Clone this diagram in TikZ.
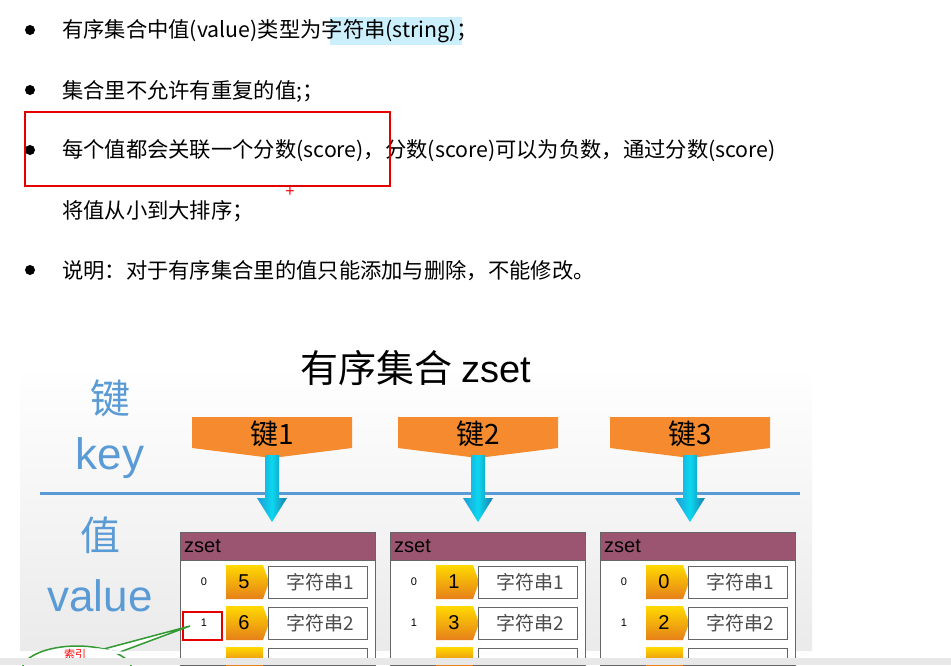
\documentclass[tikz,border=0pt]{standalone}
\usepackage{fontspec}
\newfontfamily\cjk{Noto Sans CJK SC}
\newfontfamily\ls{Liberation Sans}
\begin{document}
\begin{tikzpicture}[x=1pt,y=-1pt,
  bul/.style={circle,fill=black,inner sep=0pt,minimum size=10pt},
  txt/.style={anchor=west,font=\cjk\fontsize{21.3}{24}\selectfont,inner sep=0pt},
  side/.style={font=\cjk\fontsize{40}{44}\selectfont,inner sep=0pt},
  keylbl/.style={font=\cjk\fontsize{28}{30}\selectfont,inner sep=0pt},
  idx/.style={font=\ls\fontsize{11}{12}\selectfont,inner sep=0pt},
  num/.style={font=\ls\fontsize{20}{22}\selectfont,inner sep=0pt},
  str/.style={font=\cjk\fontsize{19}{21}\selectfont,text=black!70,inner sep=0pt},
  hdr/.style={font=\ls\fontsize{20}{22}\selectfont,anchor=west,inner sep=0pt}]
\definecolor{sideblue}{HTML}{5B9BD5}
\definecolor{orng}{HTML}{F58B2E}
\definecolor{arrblue}{HTML}{1E9BD7}
\definecolor{maroon}{HTML}{9C5570}
\useasboundingbox (0,0) rectangle (951,665);
\fill[white] (0,0) rectangle (951,665);
% bullets text
\fill[cyan!20] (330,17) rectangle (462,45);
\node[bul] (b1) at (30,30) {};
\node[txt] (t1) at (62,31) {有序集合中值(value)类型为字符串(string)；};
\node[bul] (b2) at (30,90) {};
\node[txt] (t2) at (62,91) {集合里不允许有重复的值;；};
\node[bul] (b3) at (30,150) {};
\node[txt] (t3) at (62,151) {每个值都会关联一个分数(score)，分数(score)可以为负数，通过分数(score)};
\node[txt] (t3b) at (62,211) {将值从小到大排序；};
\node[bul] (b4) at (30,270) {};
\node[txt] (t4) at (62,271) {说明：对于有序集合里的值只能添加与删除，不能修改。};
\draw[red!90!black,line width=2.5pt] (25,112) rectangle (390,186);
\node[text=red,font=\ls\fontsize{16}{16}\selectfont,inner sep=0pt] (plus) at (290,192) {+};
% diagram background
\shade[top color=white,bottom color=black!8] (20,365) rectangle (812,650);
\node[font=\cjk\fontsize{38}{40}\selectfont,inner sep=0pt] (title) at (416,368) {有序集合 {\ls zset}};
\node[side,text=sideblue] (k1) at (110,398) {键};
\node[side,text=sideblue,font=\ls\fontsize{44}{46}\selectfont] (k2) at (110,458) {key};
\node[side,text=sideblue] (v1) at (100,535) {值};
\node[side,text=sideblue,font=\ls\fontsize{44}{46}\selectfont] (v2) at (100,596) {value};
\draw[sideblue,line width=3pt] (40,493) -- (800,493);
% keys
\foreach \cx/\lab in {272/1,478/2,690/3}{
  \fill[orng] (\cx-80,417) -- (\cx+80,417) -- (\cx+80,448) -- (\cx,458) -- (\cx-80,448) -- cycle;
  \node[keylbl] (key\lab) at (\cx,434) {键\lab};
  \shade[left color=arrblue,right color=arrblue!80!black,middle color=cyan!60!arrblue]
    (\cx-7,455) -- (\cx+7,455) -- (\cx+7,498) -- (\cx+15,498) -- (\cx,522) -- (\cx-15,498) -- (\cx-7,498) -- cycle;
}
% zset boxes
\foreach \bx/\a/\b in {180/5/6,390/1/3,600/0/2}{
  \fill[white] (\bx,532) rectangle (\bx+195,665);
  \draw[black!60] (\bx,532) rectangle (\bx+195,665);
  \fill[maroon] (\bx,532) rectangle (\bx+195,560);
  \draw[black!60] (\bx,532) rectangle (\bx+195,560);
  \node[hdr] (h\bx) at (\bx+4,546) {zset};
  \foreach \ry/\i/\n/\s in {565/0/\a/1,606/1/\b/2}{
    \node[idx] (i\bx\i) at (\bx+24,\ry+17) {\i};
    \shade[top color=yellow!70!orange,bottom color=orange!60!brown]
      (\bx+46,\ry) -- (\bx+83,\ry) -- (\bx+89,\ry+17) -- (\bx+83,\ry+34) -- (\bx+46,\ry+34) -- cycle;
    \node[num] (n\bx\i) at (\bx+64,\ry+17) {\n};
    \draw[black!60] (\bx+88,\ry+1) rectangle (\bx+187,\ry+33);
    \node[str] (s\bx\i) at (\bx+140,\ry+17) {字符串\s};
  }
  \shade[top color=yellow!70!orange,bottom color=orange!60!brown] (\bx+46,647) rectangle (\bx+83,665);
  \draw[black!60] (\bx+88,648) rectangle (\bx+187,670);
}
\draw[red!90!black,line width=2pt] (183,612) rectangle (222,640);
% callout
\coordinate (tip) at (190,626);
\filldraw[fill=white,draw=green!50!black!80,line width=1.5pt] (120,652) -- (tip) -- (100,650) -- cycle;
\filldraw[fill=white,draw=green!50!black!80,line width=1.5pt] (77,670) ellipse[x radius=55,y radius=24];
\fill[white] (96,648) -- (125,652) -- (110,656) -- cycle;
\node[text=red,font=\cjk\fontsize{11}{11}\selectfont,inner sep=0pt] (lbl) at (75,654) {索引};
\fill[black!9] (0,658) rectangle (951,665);
\end{tikzpicture}
\end{document}
